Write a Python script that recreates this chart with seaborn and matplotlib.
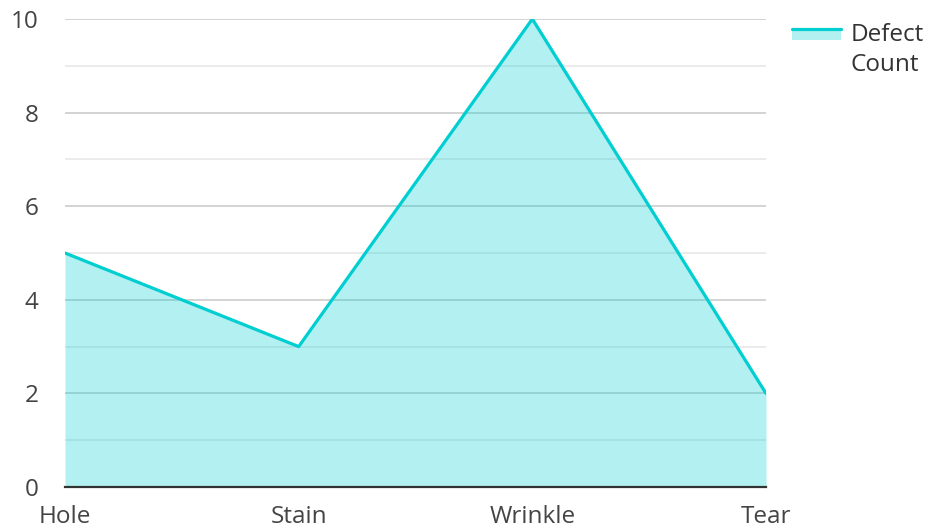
import matplotlib
matplotlib.use("Agg")
import matplotlib.pyplot as plt
import seaborn as sns
import pandas as pd
import numpy as np
from matplotlib.legend_handler import HandlerBase
from matplotlib.patches import Rectangle
from matplotlib.lines import Line2D

categories = ["Hole", "Stain", "Wrinkle", "Tear"]
defect_counts = [5, 3, 10, 2]
y_ticks = [0, 2, 4, 6, 8, 10]

line_color = "#00CED1"
font_size = 17.5

sns.set_theme(style="white")
plt.rcParams["font.family"] = ["Open Sans", "DejaVu Sans"]

df = pd.DataFrame({"defect": categories, "count": defect_counts})
df["pos"] = np.arange(len(categories))

fig = plt.figure(figsize=(9.29, 5.28), dpi=100)
ax = fig.add_axes([65 / 929, 1 - 487 / 528, (766 - 65) / 929, (487 - 19) / 528])

ax.fill_between(df["pos"], 0, df["count"], color=line_color, alpha=0.3, linewidth=0, zorder=2)
sns.lineplot(data=df, x="pos", y="count", ax=ax, color=line_color, linewidth=2.3, zorder=3)

ax.set_xlim(0, len(categories) - 1)
ax.set_ylim(0, 10)
ax.set_xticks(df["pos"])
ax.set_xticklabels(categories)
ax.set_yticks(y_ticks)
ax.set_yticks(np.arange(1, 10, 2), minor=True)
ax.grid(which="major", axis="y", color="#c8c8c8", linewidth=1.1, zorder=1)
ax.grid(which="minor", axis="y", color="#e6e6e6", linewidth=1.1, zorder=1)
ax.grid(which="major", axis="x", visible=False)
ax.set_axisbelow(True)
ax.set_xlabel("")
ax.set_ylabel("")

for side in ["top", "right", "left"]:
    ax.spines[side].set_visible(False)
ax.spines["bottom"].set_color("#333333")
ax.spines["bottom"].set_linewidth(1.6)
ax.spines["bottom"].set_zorder(4)

ax.tick_params(axis="both", which="both", length=0, labelsize=font_size, colors="#444444")
ax.tick_params(axis="y", pad=19)
ax.tick_params(axis="x", pad=13)


class AreaHandler(HandlerBase):
    """Legend key: translucent area swatch with the series line along its top,
    lifted so it sits beside the first line of a wrapped label."""

    lift = 13.0

    def create_artists(self, legend, orig_handle, xdescent, ydescent, width, height, fontsize, trans):
        bottom = -ydescent + self.lift
        patch_h = height * 0.75
        rect = Rectangle((-xdescent, bottom), width, patch_h,
                         facecolor=line_color, alpha=0.3, linewidth=0, transform=trans)
        line = Line2D([-xdescent, -xdescent + width], [bottom + patch_h, bottom + patch_h],
                      color=line_color, linewidth=2.3, transform=trans)
        return [rect, line]


handle = Rectangle((0, 0), 1, 1)
leg = fig.legend([handle], ["Defect\nCount"], handler_map={Rectangle: AreaHandler()},
                 loc="upper left", bbox_to_anchor=(792 / 929, 1 - 23 / 528),
                 frameon=False, fontsize=font_size, handlelength=2.0, handleheight=0.6,
                 handletextpad=0.42, borderpad=0, borderaxespad=0, labelcolor="#333333")
for t in leg.get_texts():
    t.set_linespacing(1.35)

fig.savefig("out.png", dpi=100)
